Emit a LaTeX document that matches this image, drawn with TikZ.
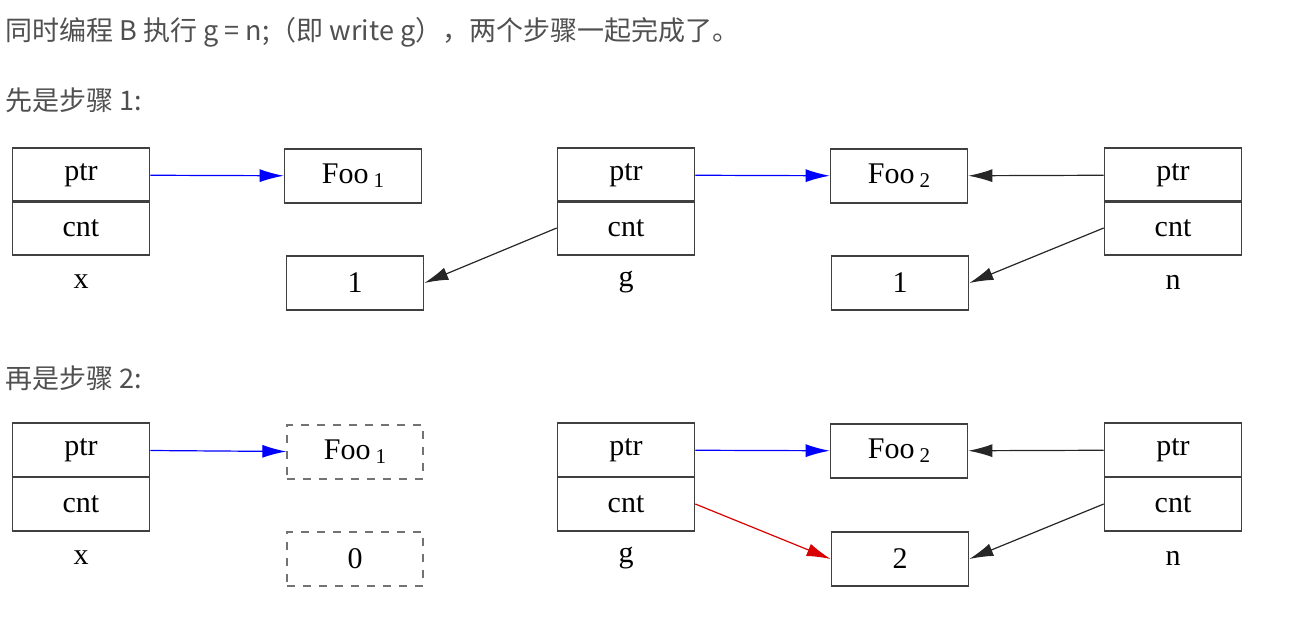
\documentclass[tikz,border=0pt]{standalone}
\usepackage{fontspec}
\setmainfont{Liberation Serif}
\newfontfamily\cjk{Noto Sans CJK SC}
\usetikzlibrary{arrows.meta}
\definecolor{txt}{RGB}{80,80,80}
\begin{document}
\begin{tikzpicture}[x=1pt,y=-1pt,
 bx/.style={draw=black!75,line width=1.6pt,minimum width=137pt,minimum height=54pt,inner sep=0pt,font=\fontsize{30}{32}\selectfont},
 db/.style={draw=black!55,dashed,dash pattern=on 8pt off 8pt,line width=1.4pt,minimum width=136pt,minimum height=54pt,inner sep=0pt,font=\fontsize{30}{32}\selectfont},
 lb/.style={font=\fontsize{30}{32}\selectfont},
 hd/.style={anchor=west,text=txt,font=\cjk\fontsize{27}{29}\selectfont},
 ar/.style={-{Latex[length=24pt,width=13pt]},line width=1.2pt}]
\useasboundingbox (0,0) rectangle (1314,618);
\node[hd] (t1) at (2,32) {同时编程 B 执行 g = n;（即 write g），两个步骤一起完成了。};
\node[hd] (t2) at (2,100) {先是步骤 1:};
\node[hd] (t3) at (2,378) {再是步骤 2:};
% step 1
\node[bx] (xp) at (81,175) {ptr}; \node[bx] (xc) at (81,228) {cnt}; \node[lb] (xl) at (81,282) {x};
\node[bx] (f1) at (353,176) {Foo\,\raisebox{-4pt}{\fontsize{21}{21}\selectfont 1}};
\node[bx] (c1) at (355,283) {1};
\node[bx] (gp) at (626,175) {ptr}; \node[bx] (gc) at (626,228) {cnt}; \node[lb] (gl) at (626,282) {g};
\node[bx] (f2) at (899,176) {Foo\,\raisebox{-4pt}{\fontsize{21}{21}\selectfont 2}};
\node[bx] (c2) at (900,283) {1};
\node[bx] (np) at (1173,175) {ptr}; \node[bx] (nc) at (1173,228) {cnt}; \node[lb] (nl) at (1173,282) {n};
\draw[ar,blue] (xp) -- (f1);
\draw[ar,black!85] (gc.west) -- (c1.east);
\draw[ar,blue] (gp) -- (f2);
\draw[ar,black!85] (np) -- (f2);
\draw[ar,black!85] (nc.west) -- (c2.east);
% step 2
\node[bx] (xp2) at (81,450) {ptr}; \node[bx] (xc2) at (81,504) {cnt}; \node[lb] (xl2) at (81,558) {x};
\node[db] (f12) at (355,452) {Foo\,\raisebox{-4pt}{\fontsize{21}{21}\selectfont 1}};
\node[db] (c12) at (355,559) {0};
\node[bx] (gp2) at (626,450) {ptr}; \node[bx] (gc2) at (626,504) {cnt}; \node[lb] (gl2) at (626,558) {g};
\node[bx] (f22) at (899,451) {Foo\,\raisebox{-4pt}{\fontsize{21}{21}\selectfont 2}};
\node[bx] (c22) at (900,559) {2};
\node[bx] (np2) at (1173,450) {ptr}; \node[bx] (nc2) at (1173,504) {cnt}; \node[lb] (nl2) at (1173,558) {n};
\draw[ar,blue] (xp2) -- (f12);
\draw[ar,blue] (gp2) -- (f22);
\draw[ar,red!85!black] (gc2.east) -- (c22.west);
\draw[ar,black!85] (np2) -- (f22);
\draw[ar,black!85] (nc2.west) -- (c22.east);
\end{tikzpicture}
\end{document}
